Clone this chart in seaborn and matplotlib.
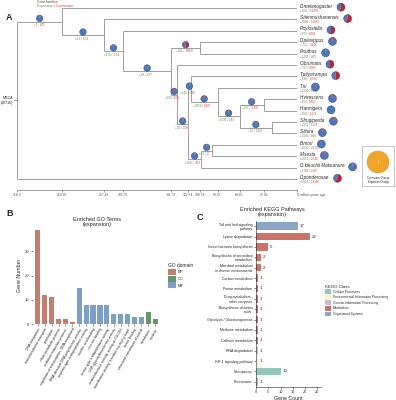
import numpy as np
import pandas as pd
import matplotlib
matplotlib.use("Agg")
import matplotlib.pyplot as plt
import seaborn as sns
from matplotlib.patches import Wedge, Rectangle, Circle
from matplotlib.transforms import IdentityTransform, offset_copy

sns.set_style("ticks")
plt.rcParams['font.family'] = ['Liberation Sans', 'DejaVu Sans']

# ---------------- data: panel A (tree) ----------------
tips = ["D.melanogaster", "S.tienmushanensis", "P.xylostella", "D.plexippus", "P.xuthus",
        "O.brumata", "T.pityocampa", "T.ni", "H.virescens", "H.armigera",
        "S.frugiperda", "S.litura", "B.mori", "M.sexta", "D.kikuchii Matsumura", "D.ponderosae"]
tip_gain = [364, 2006, 973, 753, 1202, 737, 598, 1230, 367, 958, 1837, 1505, 1630, 2052, 1783, 1013]
tip_loss = [12498, 11045, 8001, 3446, 805, 3089, 6038, 1041, 1807, 1171, 1178, 968, 2578, 1048, 1067, 12186]
tip_red = [0.55, 0.6, 0.5, 0.1, 0.05, 0.5, 0.5, 0.05, 0.1, 0.05, 0.1, 0.05, 0.05, 0.05, 0.05, 0.6]

node_names = ["Hel", "Spo", "HS", "Tni", "Noct", "BM", "BL", "NBL", "Macro", "Pap",
              "Dit", "Lep", "Amph", "Pan", "root"]
node_children = [["H.virescens", "H.armigera"], ["S.frugiperda", "S.litura"], ["Hel", "Spo"],
                 ["T.ni", "HS"], ["T.pityocampa", "Tni"], ["B.mori", "M.sexta"],
                 ["BM", "D.kikuchii Matsumura"], ["Noct", "BL"], ["O.brumata", "NBL"],
                 ["D.plexippus", "P.xuthus"], ["Pap", "Macro"], ["P.xylostella", "Dit"],
                 ["S.tienmushanensis", "Lep"], ["D.melanogaster", "Amph"], ["Pan", "D.ponderosae"]]
node_age = [37.46, 28.0, 64.66, 89.37, 119.5, 95.5, 107.8, 122.54, 134.6, 108.78,
            141.79, 195.35, 217.45, 263.96, 314.9]
node_gain = [367, 30, 1030, 1054, 145, 21, 166, 25, 163, 281, 60, 176, 13, 1, 0]
node_loss = [1497, 1120, 243, 1497, 226, 3, 363, 208, 600, 8660, 377, 574, 578, 605, 0]
node_red = [0.05, 0.05, 0.05, 0.05, 0.05, 0.05, 0.05, 0.05, 0.05, 0.5, 0.05, 0.05, 0.05, 0.05, 0.0]
time_ticks = [314.9, 263.96, 217.45, 195.35, 141.79, 122.54, 108.78, 89.37, 64.66, 37.46, 0]

# ---------------- data: panel B (GO) ----------------
go_terms = ["DNA integration", "transmembrane transport", "proteolysis",
            "chitin metabolic process", "oxidation-reduction process",
            "regulation of transcription, DNA-templated",
            "RNA-directed DNA polymerase activity", "aspartic-type endopeptidase activity",
            "nucleic acid binding", "zinc ion binding", "serine-type endopeptidase activity",
            "UDP-glycosyltransferase activity", "oxidoreductase activity, acting on CH-OH",
            "transferase activity, transferring acyl groups", "heme binding",
            "structural constituent of cuticle", "membrane", "nucleus"]
go_count = [39, 12, 11, 2, 2, 1, 15, 8, 8, 8, 8, 4, 4, 4, 3, 3, 5, 2]
go_domain = ["BP"] * 6 + ["MF"] * 10 + ["CC"] * 2
go_colors = {"BP": "#D4735E", "CC": "#5AA05A", "MF": "#6E9ED6"}

# ---------------- data: panel C (KEGG) ----------------
kegg_paths = ["Toll and Imd signaling\npathway", "Lysine degradation", "Insect hormone biosynthesis",
              "Biosynthesis of secondary\nmetabolites", "Microbial metabolism\nin diverse environments",
              "Carbon metabolism", "Purine metabolism", "Drug metabolism -\nother enzymes",
              "Biosynthesis of amino\nacids", "Glycolysis / Gluconeogenesis", "Methane metabolism",
              "Caffeine metabolism", "RNA degradation", "HIF-1 signaling pathway",
              "Necroptosis", "Peroxisome"]
kegg_count = [17, 22, 5, 2, 2, 1, 1, 1, 1, 1, 1, 1, 1, 1, 10, 1]
kegg_class = ["Organismal Systems"] + ["Metabolism"] * 11 + ["Genetic Information Processing",
              "Environmental Information Processing", "Cellular Processes", "Cellular Processes"]
kegg_order = ["Cellular Processes", "Environmental Information Processing",
              "Genetic Information Processing", "Metabolism", "Organismal Systems"]
kegg_colors = ["#8CCFBF", "#FFFFB3", "#BEBADA", "#DE6457", "#7FA6D4"]

W, H = 396, 400
fig = plt.figure(figsize=(W / 100, H / 100), dpi=100)

def rect(l, t, r, b):
    return [l / W, 1 - b / H, (r - l) / W, (b - t) / H]

# ================= Panel A =================
axA = fig.add_axes(rect(17, 0, 297, 190))
axA.set_xlim(314.9, 0)
axA.set_ylim(15.96, -0.7)
line_c = "#8f8f8f"
pos = {t: (0.0, float(i)) for i, t in enumerate(tips)}
for n, ch, a in zip(node_names, node_children, node_age):
    pos[n] = (a, float(np.mean([pos[c][1] for c in ch])))
parent = {c: n for n, ch in zip(node_names, node_children) for c in ch}

for n, ch in zip(node_names, node_children):
    a, y = pos[n]
    ys = [pos[c][1] for c in ch]
    axA.plot([a, a], [min(ys), max(ys)], color=line_c, lw=0.6, solid_capstyle="butt")
    for c in ch:
        axA.plot([a, pos[c][0]], [pos[c][1]] * 2, color=line_c, lw=0.6, solid_capstyle="butt")

BLUE, RED, GREEN, LRED = "#4A78C0", "#C8202A", "#5E8F5E", "#D9453F"

def pie(px, py, r, red):
    blue_ang = 360 * (1 - red)
    fig.patches.append(Wedge((px, py), r, 90, 90 + blue_ang, facecolor=BLUE, edgecolor="none",
                             transform=IdentityTransform(), figure=fig))
    if red > 0:
        fig.patches.append(Wedge((px, py), r, 90 + blue_ang, 450, facecolor=RED, edgecolor="none",
                                 transform=IdentityTransform(), figure=fig))
    fig.patches.append(Circle((px, py), r, facecolor="none", edgecolor="#2b3f66", lw=0.3,
                              transform=IdentityTransform(), figure=fig))

def gl_label(x, y, g, l):
    t1 = offset_copy(axA.transData, fig=fig, x=0, y=-3.5, units="dots")
    axA.text(x, y, f"+{g} / ", color=GREEN, fontsize=2.2, ha="right", va="center", transform=t1)
    axA.text(x, y, f"-{l}", color=LRED, fontsize=2.2, ha="left", va="center", transform=t1)

# internal nodes
for n, g, l, r in zip(node_names, node_gain, node_loss, node_red):
    if n == "root":
        continue
    a, y = pos[n]
    pa = pos[parent[n]][0]
    mid = (a + pa) / 2
    px, py = axA.transData.transform((mid, y))
    pie(px, py + 3.2, 3.3, r)
    gl_label(mid, y, g, l)

# tips
fig.canvas.draw()
renderer = fig.canvas.get_renderer()
for t, g, l, r in zip(tips, tip_gain, tip_loss, tip_red):
    a, y = pos[t]
    tr = offset_copy(axA.transData, fig=fig, x=3, y=1.8, units="dots")
    txt = axA.text(a, y, t, fontsize=3.3, style="italic", ha="left", va="center", transform=tr,
                   clip_on=False)
    tr2 = offset_copy(axA.transData, fig=fig, x=3, y=-3.0, units="dots")
    axA.text(a, y, f"+{g} / ", fontsize=2.2, color=GREEN, ha="left", va="center", transform=tr2)
    bb0 = axA.texts[-1].get_window_extent(renderer)
    tr3 = offset_copy(axA.transData, fig=fig, x=3 + bb0.width, y=-3.0, units="dots")
    axA.text(a, y, f"-{l}", fontsize=2.2, color=LRED, ha="left", va="center", transform=tr3)
    bb = txt.get_window_extent(renderer)
    pie(bb.x1 + 8, (bb.y0 + bb.y1) / 2 - 1, 4.0, r)

ra, ry = pos["root"]
axA.plot([ra + 3, ra], [ry, ry], color=line_c, lw=0.6, clip_on=False)
trm = offset_copy(axA.transData, fig=fig, x=-4, y=0, units="dots")
axA.text(ra, ry, "MRCA\n(16716)", fontsize=2.6, ha="right", va="center", transform=trm,
         linespacing=1.2)

for s in ["top", "right", "left"]:
    axA.spines[s].set_visible(False)
axA.spines["bottom"].set_color("#777777")
axA.spines["bottom"].set_linewidth(0.5)
axA.set_yticks([])
axA.set_xticks(time_ticks)
axA.set_xticklabels([f"{v:g}" for v in time_ticks[:-1]] + ["0 million years ago"], fontsize=2.4)
axA.get_xticklabels()[-1].set_ha("left")
axA.tick_params(axis="x", length=1.5, width=0.4, pad=1, colors="#555555")

fig.text(6 / W, 1 - 17 / H, "A", fontsize=6.5, fontweight="bold", va="center")
fig.text(37 / W, 1 - 2 / H, "Gene families", fontsize=2.4, color="#444444", va="center")
t_exp = fig.text(37 / W, 1 - 6 / H, "Expansion ", fontsize=2.4, color=GREEN, va="center")
fig.canvas.draw()
x_after = t_exp.get_window_extent(fig.canvas.get_renderer()).x1
fig.text(x_after / W, 1 - 6 / H, "/ Contraction", fontsize=2.4, color=LRED, va="center")

# small legend box bottom right
fig.patches.append(Rectangle((362 / W, 1 - 186 / H), 32 / W, 40 / H, transform=fig.transFigure,
                             facecolor="white", edgecolor="#999999", lw=0.4, figure=fig))
fig.patches.append(Circle((378, H - 162), 11, transform=IdentityTransform(), facecolor="#F0A52A",
                          edgecolor="#D08A18", lw=0.3, figure=fig))
fig.text(378 / W, 1 - 162 / H, "!", fontsize=4, color="white", ha="center", va="center")
fig.text(378 / W, 1 - 180 / H, "Contraction Change\nExpansion Change", fontsize=1.8,
         ha="center", va="center", linespacing=1.3)

# ================= Panel B =================
axB = fig.add_axes(rect(33, 226, 160, 324))
dfB = pd.DataFrame({"term": go_terms, "count": go_count, "domain": go_domain})
sns.barplot(data=dfB, x="term", y="count", hue="domain", hue_order=["BP", "CC", "MF"],
            palette=go_colors, dodge=False, width=0.75, ax=axB, legend=True,
            linewidth=0, edgecolor="none")
axB.set_ylim(0, 40.5)
axB.set_xlim(-0.7, len(go_terms) - 0.3)
axB.set_yticks([0, 10, 20, 30])
axB.tick_params(axis="y", labelsize=3, length=1.5, width=0.4, pad=1)
axB.tick_params(axis="x", labelsize=2.5, length=1.5, width=0.4, pad=1)
axB.set_xticks(range(len(go_terms)))
axB.set_xticklabels(go_terms, rotation=60, ha="right", rotation_mode="anchor")
axB.set_xlabel("")
axB.set_ylabel("Gene Number", fontsize=3.8, labelpad=2)
sns.despine(ax=axB, left=True, bottom=True)
legB = axB.legend(title="GO domain", loc="upper left", bbox_to_anchor=(166 / W, 1 - 261 / H),
                  bbox_transform=fig.transFigure, frameon=False, fontsize=3, title_fontsize=3.5,
                  handlelength=1.9, handleheight=1.9, labelspacing=0.15, borderpad=0,
                  handletextpad=0.5)
legB._legend_box.align = "left"
fig.text(97 / W, 1 - 222 / H, "Enriched GO Terms\n(expansion)", fontsize=4, ha="center",
         va="center", linespacing=1.2)
fig.text(6 / W, 1 - 214 / H, "B", fontsize=6.5, fontweight="bold", va="center")

# ================= Panel C =================
axC = fig.add_axes(rect(256, 221, 321, 387))
dfC = pd.DataFrame({"path": kegg_paths, "count": kegg_count, "cls": kegg_class})
sns.barplot(data=dfC, y="path", x="count", hue="cls", hue_order=kegg_order,
            palette=kegg_colors, dodge=False, width=0.72, orient="h", ax=axC, legend=True,
            linewidth=0, edgecolor="none")
for c in axC.containers:
    axC.bar_label(c, padding=1.2, fontsize=3.2)
axC.set_xlim(0, 26.5)
axC.set_xticks([0, 5, 10, 15, 20, 25])
axC.tick_params(axis="x", labelsize=2.8, length=1.5, width=0.4, pad=1)
axC.tick_params(axis="y", labelsize=2.5, length=1.5, width=0.4, pad=1)
axC.set_ylabel("")
axC.set_xlabel("Gene Count", fontsize=3.8, labelpad=1)
for s in ["left", "bottom"]:
    axC.spines[s].set_linewidth(0.4)
sns.despine(ax=axC)
legC = axC.legend(title="KEGG Class", loc="upper left", bbox_to_anchor=(323 / W, 1 - 283 / H),
                  bbox_transform=fig.transFigure, frameon=False, fontsize=2.3, title_fontsize=3.2,
                  handlelength=2.0, handleheight=2.0, labelspacing=0.2, borderpad=0,
                  handletextpad=0.5)
legC._legend_box.align = "left"
fig.text(272 / W, 1 - 212 / H, "Enriched KEGG Pathways\n(expansion)", fontsize=4, ha="center",
         va="center", linespacing=1.2)
fig.text(197 / W, 1 - 217 / H, "C", fontsize=6.5, fontweight="bold", va="center")

fig.savefig("out.png", dpi=100)
